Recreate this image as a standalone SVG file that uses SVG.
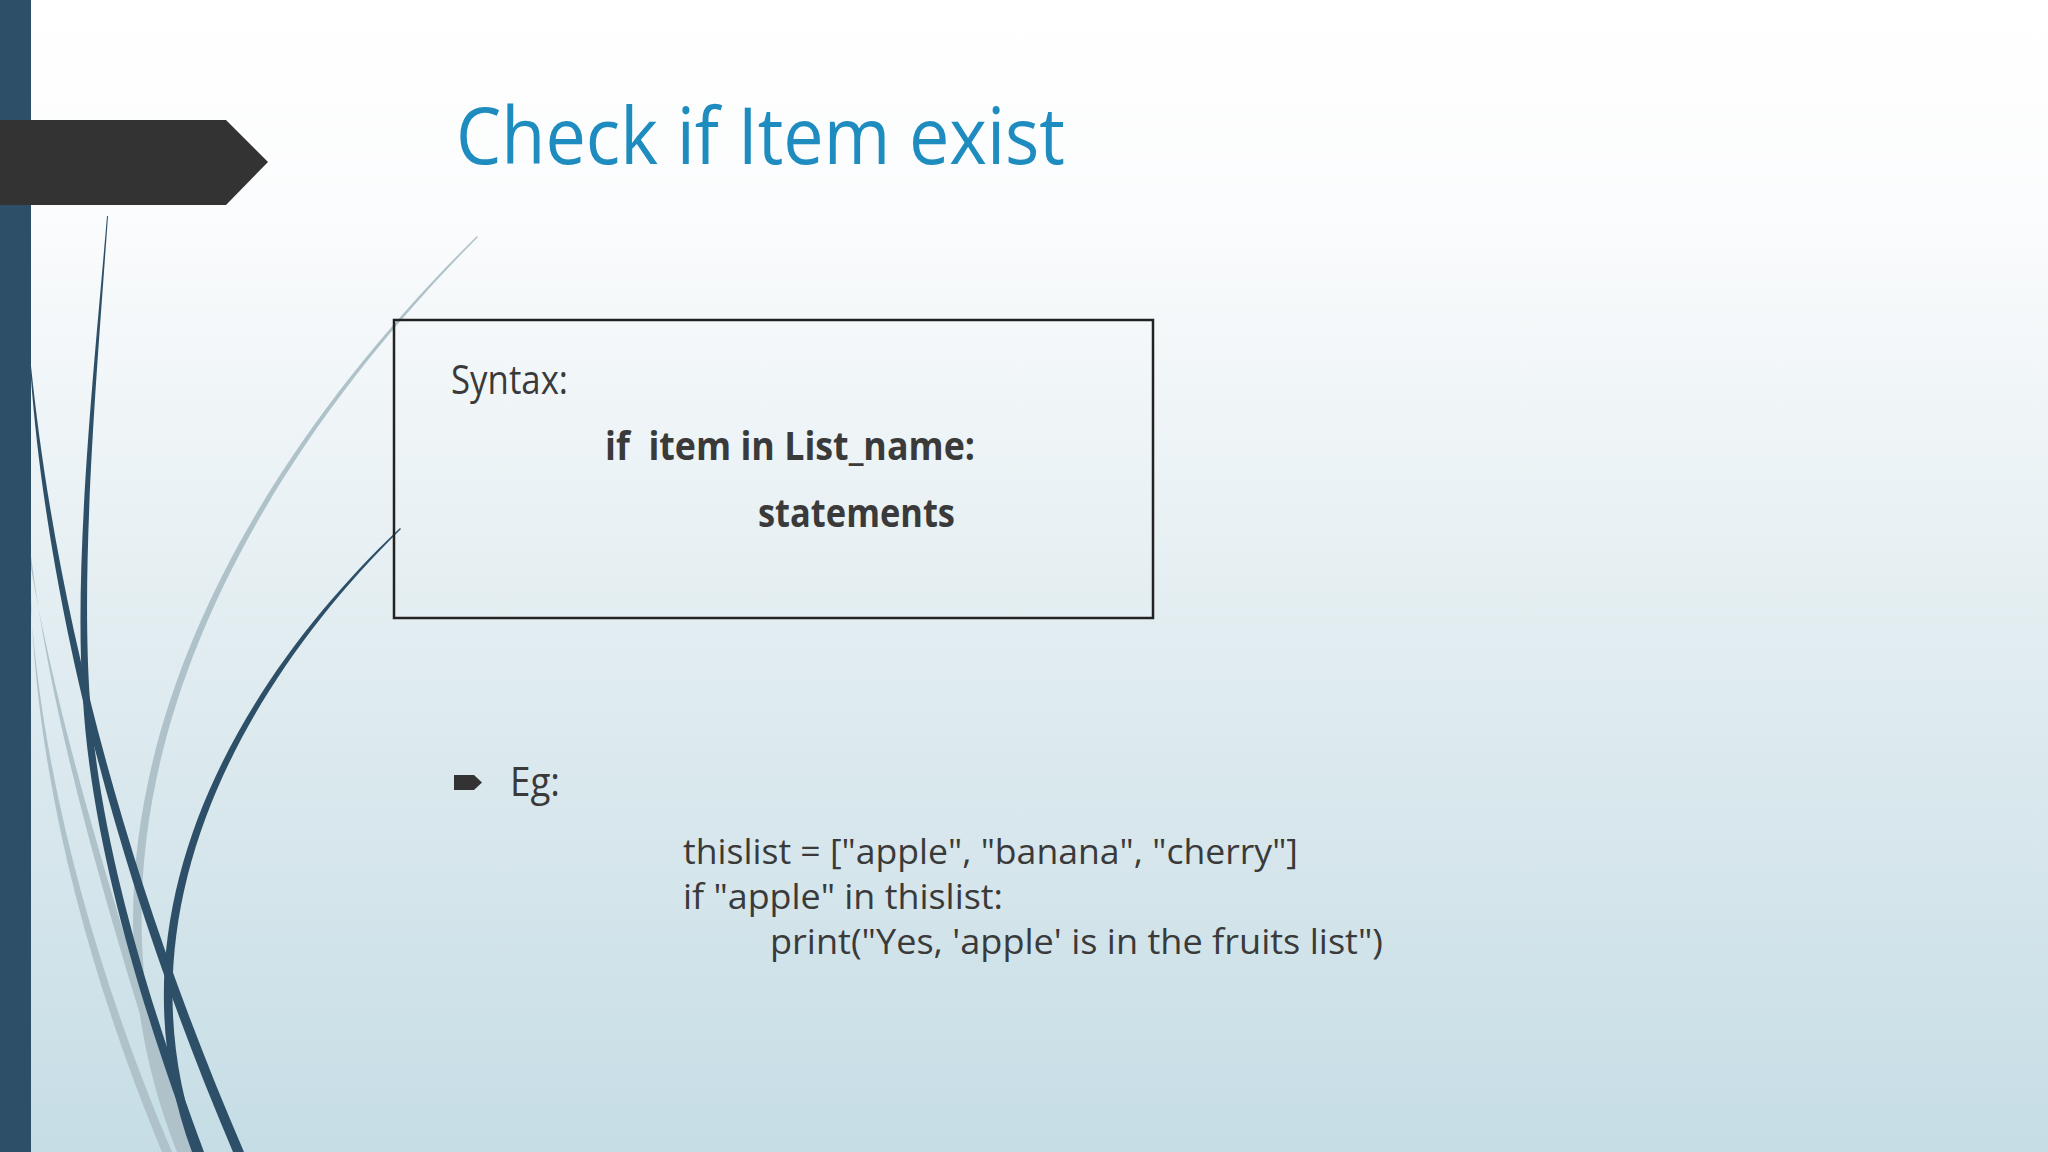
<svg xmlns="http://www.w3.org/2000/svg" width="2048" height="1152" viewBox="0 0 2048 1152">
  <defs>
    <linearGradient id="bg" x1="0" y1="0" x2="0" y2="1">
      <stop offset="0" stop-color="#FFFFFF"/>
      <stop offset="0.18" stop-color="#FBFCFD"/>
      <stop offset="0.55" stop-color="#E2EDF1"/>
      <stop offset="1" stop-color="#C6DDE5"/>
    </linearGradient>
    <style>
      .dark { fill: #2D5068; }
      .light { fill: #AFC2CA; }
      .title { font-family: "Open Sans", "Noto Sans", "Liberation Sans", sans-serif; font-size: 78px; fill: #1E8CBF; }
      .body { font-family: "Open Sans", "Noto Sans", "Liberation Sans", sans-serif; font-size: 40px; fill: #3A3A3A; }
      .bold { font-weight: bold; }
      .code { font-family: "Open Sans", "Noto Sans", "Liberation Sans", sans-serif; font-size: 34px; fill: #3A3A3A; }
      .box { fill: none; stroke: #222222; stroke-width: 2.5; }
      .marker { fill: #333333; }
    </style>
  </defs>

  <rect x="0" y="0" width="2048" height="1152" fill="url(#bg)"/>

  <g id="decor">
    <path class="light" d="M31,556 C57,760 124,960 182,1152 L193,1152 C132,960 65,760 31,568 Z"/>
    <path class="light" d="M31,596 C37,800 99,1000 162,1152 L172,1152 C107,1000 44,800 31,608 Z"/>
    <path class="light" d="M477,236 C239,470 42,810 177,1152 L187,1152 C50,810 245,472 478,237 Z"/>
    <path class="dark" d="M107,216 C95,360 73,560 83,700 C92,850 146,1020 195,1152 L204,1152 C155,1020 100,850 90,700 C80,560 98,360 108,216 Z"/>
    <path class="dark" d="M31,366 C51,560 105,830 244,1152 L233,1152 C96,830 45,560 31,379 Z"/>
    <path class="dark" d="M400,528 C229,690 106,920 192,1152 L201,1152 C115,920 236,692 401,529 Z"/>
  </g>

  <rect id="sidebar" x="0" y="0" width="31" height="1152" fill="#2D5068"/>

  <g id="header-arrow">
    <path d="M0,120 L226,120 L268,162 L226,205 L0,205 Z" fill="#333333"/>
  </g>

  <g id="title">
    <text class="title" x="456" y="164" textLength="609" lengthAdjust="spacingAndGlyphs">Check if Item exist</text>
  </g>

  <g id="syntax-box">
    <rect class="box" x="394" y="320" width="759" height="298"/>
    <text class="body" x="451" y="394" textLength="117" lengthAdjust="spacingAndGlyphs">Syntax:</text>
    <text class="body bold" x="605" y="460" textLength="370" lengthAdjust="spacingAndGlyphs" xml:space="preserve">if  item in List_name:</text>
    <text class="body bold" x="758" y="527" textLength="197" lengthAdjust="spacingAndGlyphs">statements</text>
  </g>

  <g id="example">
    <path class="marker" d="M454,775 L474,775 L482,782.5 L474,790 L454,790 Z"/>
    <text class="body" x="510" y="796" font-size="38" textLength="50" lengthAdjust="spacingAndGlyphs">Eg:</text>
    <text class="code" x="683" y="864" textLength="615" lengthAdjust="spacingAndGlyphs">thislist = ["apple", "banana", "cherry"]</text>
    <text class="code" x="683" y="909" textLength="320" lengthAdjust="spacingAndGlyphs">if "apple" in thislist:</text>
    <text class="code" x="770" y="954" textLength="613" lengthAdjust="spacingAndGlyphs">print("Yes, 'apple' is in the fruits list")</text>
  </g>
</svg>
